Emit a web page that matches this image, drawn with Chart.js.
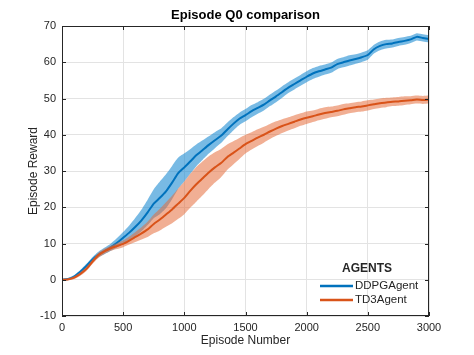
<!DOCTYPE html>
<html><head><meta charset="utf-8">
<script src="https://cdn.jsdelivr.net/npm/chart.js@4/dist/chart.umd.min.js"></script>
<style>html,body{margin:0;padding:0;background:#fff}#wrap{width:474px;height:355px}</style>
</head><body><div id="wrap"><canvas id="c" width="474" height="355"></canvas></div>
<script>
const chartTitle = 'Episode Q0 comparison';
const xTitle = 'Episode Number';
const yTitle = 'Episode Reward';
const legendTitle = 'AGENTS';
const seriesNames = ['DDPGAgent', 'TD3Agent'];
const xTicks = [0, 500, 1000, 1500, 2000, 2500, 3000];
const yTicks = [-10, 0, 10, 20, 30, 40, 50, 60, 70];

const episodes = [0,50,100,150,200,250,300,350,400,450,500,550,600,650,700,750,800,850,900,950,
  1000,1050,1100,1150,1200,1250,1300,1350,1400,1450,1500,1550,1600,1650,1700,1750,1800,1850,1900,1950,
  2000,2050,2100,2150,2200,2250,2300,2350,2400,2450,2500,2550,2600,2650,2700,2750,2800,2850,2900,2950,3000];

const ddpgMean = [0,0.2,0.9,2.2,3.8,5.6,7.0,8.0,9.0,10.2,11.6,13.0,14.6,16.4,18.6,21.0,22.6,24.4,26.8,29.4,
  31.0,32.7,34.4,35.8,37.2,38.5,39.7,41.4,43.0,44.4,45.4,46.5,47.4,48.3,49.5,50.6,51.8,53.0,54.0,55.0,
  56.0,56.9,57.5,58.0,58.5,59.5,60.0,60.5,60.9,61.4,62.0,63.6,64.5,65.0,65.2,65.6,65.9,66.3,67.0,66.7,66.4];
const ddpgSpread = [0.2,0.3,0.4,0.5,0.6,0.7,0.8,0.9,1.0,1.3,1.6,2.0,2.5,3.0,3.5,4.0,4.5,4.7,4.6,4.3,
  3.9,3.4,3.0,2.7,2.4,2.2,2.0,1.9,1.8,1.7,1.7,1.7,1.6,1.6,1.6,1.6,1.6,1.5,1.5,1.5,
  1.5,1.5,1.5,1.4,1.4,1.4,1.4,1.4,1.3,1.3,1.3,1.2,1.2,1.2,1.1,1.1,1.1,1.0,1.0,1.0,1.0];

const td3Mean = [0,0.1,0.6,1.6,3.0,5.0,6.8,7.9,8.7,9.3,9.9,10.8,11.8,12.8,13.9,15.4,16.6,18.0,19.4,21.0,
  22.6,24.6,26.4,28.0,29.6,31.0,32.2,33.8,35.0,36.2,37.4,38.3,39.2,40.0,40.9,41.7,42.4,43.0,43.6,44.2,
  44.7,45.1,45.6,46.0,46.3,46.6,47.0,47.3,47.6,47.8,48.1,48.4,48.7,48.9,49.1,49.2,49.4,49.5,49.7,49.6,49.7];
const td3Spread = [0.2,0.3,0.4,0.5,0.6,0.6,0.7,0.7,0.7,0.8,0.9,1.1,1.4,1.7,2.1,2.6,3.0,3.4,3.8,4.2,
  4.5,4.7,4.8,4.7,4.5,4.2,3.9,3.5,3.2,2.9,2.6,2.4,2.3,2.2,2.1,2.0,1.9,1.8,1.8,1.7,
  1.7,1.6,1.6,1.6,1.5,1.5,1.5,1.4,1.4,1.4,1.4,1.3,1.3,1.3,1.2,1.2,1.2,1.1,1.1,1.1,1.1];

const pts = (arr) => episodes.map((e, i) => ({x: e, y: arr[i]}));
const upper = (m, s) => pts(m.map((v, i) => v + s[i]));
const lower = (m, s) => pts(m.map((v, i) => v - s[i]));

const blue = '#0072BD', blueBand = 'rgba(30,140,210,0.6)';
const orange = '#D95319', orangeBand = 'rgba(230,110,60,0.55)';
const txt = '#262626';
const FONT = 'Arial, "Liberation Sans", Helvetica, sans-serif';

const bandDs = (data, color, fillTarget, order) => ({
  data, borderWidth: 0, pointRadius: 0, backgroundColor: color, borderColor: 'transparent',
  fill: fillTarget, order, tension: 0.2
});

const frame = {
  id: 'frame',
  afterDatasetsDraw(chart) {
    const {ctx, chartArea: a, scales: {x, y}} = chart;
    ctx.save();
    ctx.strokeStyle = txt; ctx.lineWidth = 1;
    ctx.beginPath();
    xTicks.forEach(v => {
      const px = Math.round(x.getPixelForValue(v)) + 0.5;
      ctx.moveTo(px, a.bottom); ctx.lineTo(px, a.bottom - 4);
      ctx.moveTo(px, a.top); ctx.lineTo(px, a.top + 4);
    });
    yTicks.forEach(v => {
      const py = Math.round(y.getPixelForValue(v)) + 0.5;
      ctx.moveTo(a.left, py); ctx.lineTo(a.left + 4, py);
      ctx.moveTo(a.right, py); ctx.lineTo(a.right - 4, py);
    });
    ctx.stroke();
    ctx.strokeRect(Math.round(a.left) + 0.5, Math.round(a.top) + 0.5,
      Math.round(a.right - a.left) - 1, Math.round(a.bottom - a.top) - 1);
    ctx.restore();
  },
  afterDraw(chart) {
    const {ctx, chartArea: a} = chart;
    ctx.save();
    ctx.fillStyle = '#000';
    ctx.font = 'bold 13px ' + FONT;
    ctx.textAlign = 'center'; ctx.textBaseline = 'middle';
    ctx.fillText(chartTitle, (a.left + a.right) / 2, 15.5);
    ctx.fillStyle = txt;
    ctx.font = 'bold 12px ' + FONT;
    ctx.fillText(legendTitle, a.right - 62, a.bottom - 47);
    const cols = [blue, orange];
    ctx.font = '11.5px ' + FONT;
    ctx.textAlign = 'left';
    seriesNames.forEach((n, i) => {
      const yy = a.bottom - 30 + i * 14;
      ctx.strokeStyle = cols[i]; ctx.lineWidth = 2.5;
      ctx.beginPath(); ctx.moveTo(a.right - 109, yy); ctx.lineTo(a.right - 76, yy); ctx.stroke();
      ctx.fillText(n, a.right - 74, yy);
    });
    ctx.restore();
  }
};

new Chart(document.getElementById('c'), {
  type: 'line',
  data: {
    datasets: [
      bandDs(upper(ddpgMean, ddpgSpread), blueBand, '+1', 4),
      bandDs(lower(ddpgMean, ddpgSpread), blueBand, false, 4),
      {label: seriesNames[0], data: pts(ddpgMean), borderColor: blue, borderWidth: 2, pointRadius: 0, fill: false, order: 3, tension: 0.2},
      bandDs(upper(td3Mean, td3Spread), orangeBand, '+1', 2),
      bandDs(lower(td3Mean, td3Spread), orangeBand, false, 2),
      {label: seriesNames[1], data: pts(td3Mean), borderColor: orange, borderWidth: 2, pointRadius: 0, fill: false, order: 1, tension: 0.2}
    ]
  },
  options: {
    responsive: false, animation: false,
    layout: {padding: {left: 26, top: 26, right: 45, bottom: 7}},
    plugins: {legend: {display: false}, tooltip: {enabled: false}, title: {display: false}},
    scales: {
      x: {
        type: 'linear', min: 0, max: 3000,
        afterFit: s => { s.height = 32; },
        afterBuildTicks: s => { s.ticks = xTicks.map(v => ({value: v})); },
        grid: {color: '#e3e3e3', drawTicks: false},
        border: {display: false},
        ticks: {color: txt, font: {size: 11, family: FONT}, padding: 5, maxRotation: 0, callback: v => String(v)},
        title: {display: true, text: xTitle, color: txt, font: {size: 12, family: FONT}, padding: 0}
      },
      y: {
        min: -10, max: 70,
        afterFit: s => { s.width = 36; },
        afterBuildTicks: s => { s.ticks = yTicks.map(v => ({value: v})); },
        grid: {color: '#e3e3e3', drawTicks: false},
        border: {display: false},
        ticks: {color: txt, font: {size: 11, family: FONT}, padding: 6, callback: v => String(v)},
        title: {display: true, text: yTitle, color: txt, font: {size: 12, family: FONT}, padding: 0}
      }
    }
  },
  plugins: [frame]
});
</script>
</body></html>
